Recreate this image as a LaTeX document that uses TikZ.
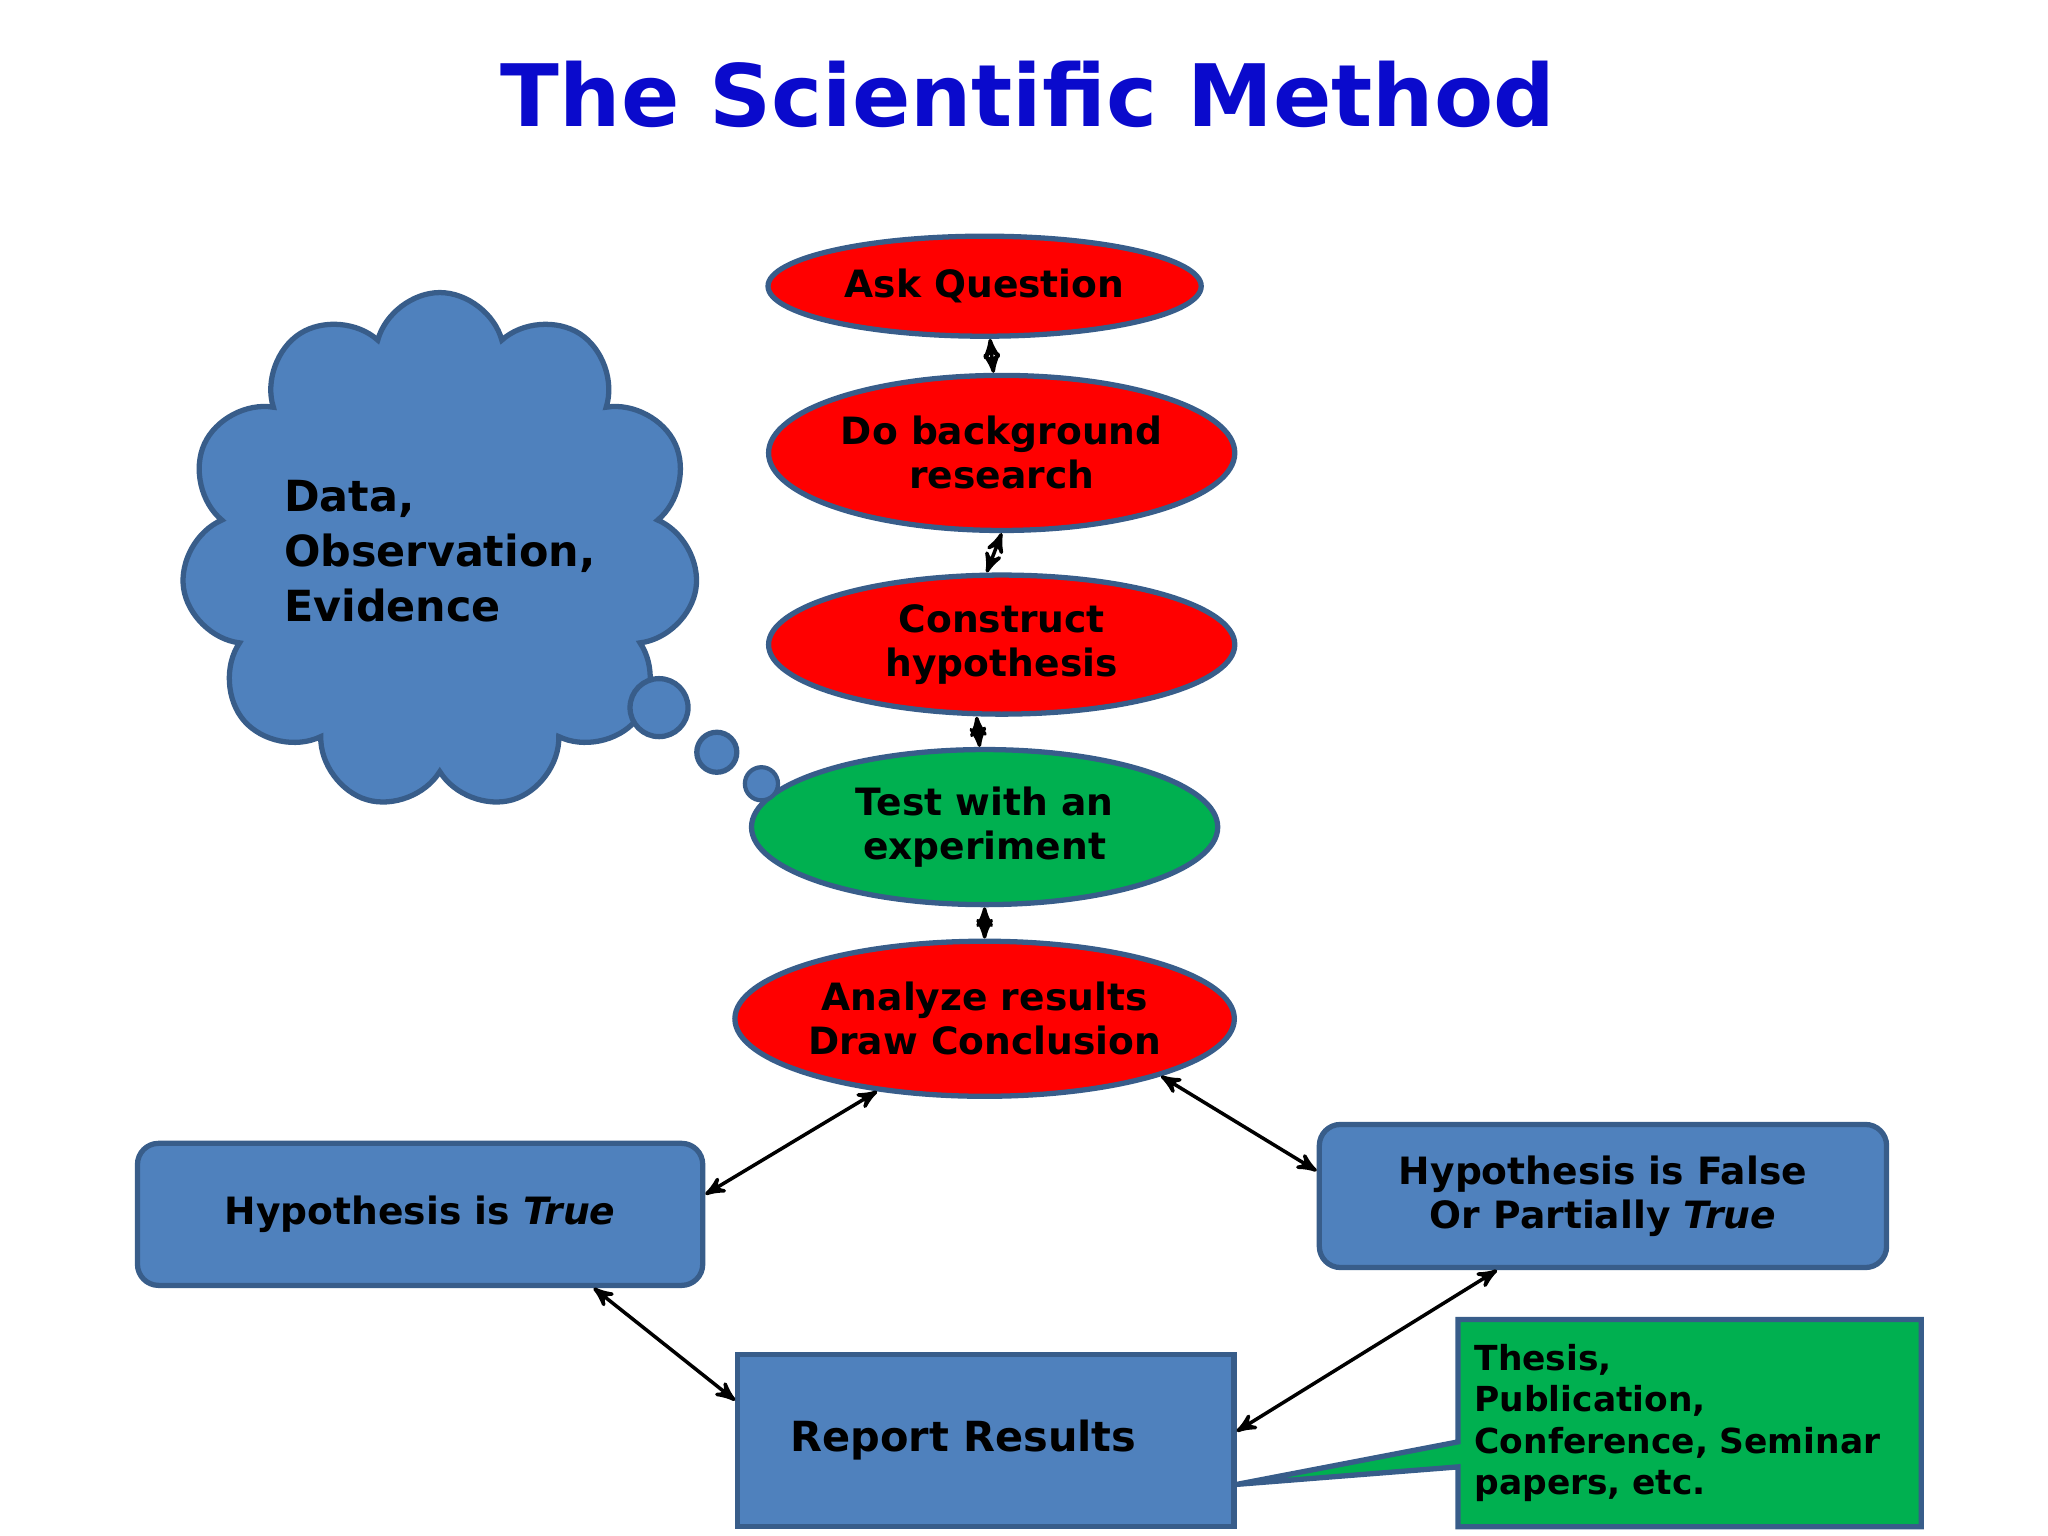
\documentclass[tikz,border=0pt]{standalone}
\usepackage{fontspec}
\setmainfont{DejaVu Sans}
\usetikzlibrary{arrows,shapes.geometric,shapes.symbols,shapes.callouts}
\definecolor{boxblue}{HTML}{4F81BD}
\definecolor{edgeblue}{HTML}{385D8A}
\definecolor{stepgreen}{HTML}{00B050}
\definecolor{titleblue}{HTML}{0A0ACC}
\begin{document}
\begin{tikzpicture}[x=0.01313cm,y=-0.01313cm,<->,>=stealth',line width=1pt,
                    font=\bfseries\fontsize{10.7}{12.5}\selectfont]
  \tikzstyle{stage}=[ellipse,draw=edgeblue,line width=1.5pt,fill=red,text=black,
                    align=center,inner sep=0pt,minimum width=4.66cm,minimum height=1.55cm]
  \tikzstyle{result}=[rectangle,rounded corners=6pt,draw=edgeblue,line width=1.5pt,
                    fill=boxblue,text=black,align=center]
  \useasboundingbox (0,0) rectangle (1560,1170);

  \node[text=titleblue,font=\bfseries\fontsize{24.5}{28}\selectfont] (title) at (783,72) {The Scientific Method};

  \node[stage,minimum width=4.33cm,minimum height=1.0cm] (ask) at (750,218) {Ask Question};
  \node[stage]                          (bg)  at (763,345) {Do background\\research};
  \node[stage,minimum height=1.39cm]    (hyp) at (763,491) {Construct\\hypothesis};
  \node[stage,fill=stepgreen]           (exp) at (750,630) {Test with an\\experiment};
  \node[stage]                          (ana) at (750,776) {Analyze results\\Draw Conclusion};

  \node[result,minimum width=5.65cm,minimum height=1.42cm] (true)  at (320,925)  {Hypothesis is \textit{True}};
  \node[result,minimum width=5.67cm,minimum height=1.43cm] (false) at (1221,911) {Hypothesis is False\\Or Partially \textit{True}};
  \node[result,rounded corners=0pt,minimum width=4.96cm,minimum height=1.72cm,
        font=\bfseries\fontsize{11.8}{14}\selectfont] (report) at (751,1097) {\hspace*{-0.45cm}Report Results};

  \node[cloud,cloud puffs=11,draw=edgeblue,line width=1.5pt,fill=boxblue,inner sep=0pt,
        minimum width=5.1cm,minimum height=3.3cm,align=left,
        font=\bfseries\fontsize{12.2}{15.6}\selectfont] (data) at (335,420) {Data,\\Observation,\\Evidence};
  \node[circle,draw=edgeblue,line width=1.5pt,fill=boxblue,minimum size=0.58cm] (b1) at (502,539) {};
  \node[circle,draw=edgeblue,line width=1.5pt,fill=boxblue,minimum size=0.4cm]  (b2) at (546,573) {};
  \node[circle,draw=edgeblue,line width=1.2pt,fill=boxblue,minimum size=0.2cm]  (b3) at (580,597) {};

  \node[rectangle callout,callout absolute pointer={(report.-10)},draw=edgeblue,line width=1.5pt,
        fill=stepgreen,minimum width=4.63cm,minimum height=2.07cm,align=left,text width=4.3cm,
        font=\bfseries\fontsize{9.8}{11.8}\selectfont] (pub) at (1287,1084)
        {Thesis,\\Publication,\\Conference, Seminar\\papers, etc.};

  \path
  (ask) edge (bg)
  (bg.south) edge ([xshift=-0.15cm]hyp.north)
  ([xshift=-0.25cm]hyp.south) edge ([xshift=-0.05cm]exp.north)
  (exp) edge (ana)
  (ana.214) edge (true.4)
  (ana.342) edge (false.175)
  (true.-23) edge (report.171)
  (false.215) edge (report.2);
\end{tikzpicture}
\end{document}
